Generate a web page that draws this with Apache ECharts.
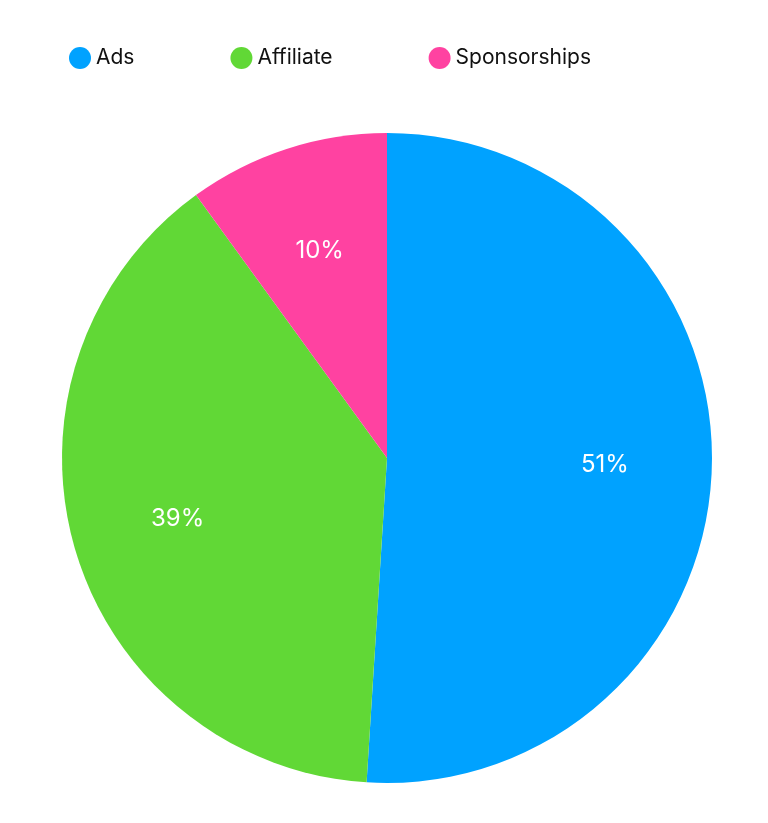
<!DOCTYPE html>
<html>
<head>
<meta charset="utf-8">
<script src="https://cdn.jsdelivr.net/npm/echarts@6/dist/echarts.min.js"></script>
<style>html,body{margin:0;background:#fff}#chart{width:768px;height:823px}</style>
</head>
<body>
<div id="chart"></div>
<script>
const categories = ['Ads', 'Affiliate', 'Sponsorships'];
const values = [51, 39, 10];
const colors = ['#00A2FF', '#61D836', '#FF42A1'];

const data = categories.map((name, i) => ({name, value: values[i]}));
const chart = echarts.init(document.getElementById('chart'));

chart.setOption({
  color: colors,
  legend: {
    top: 42,
    left: 64,
    itemGap: 96,
    icon: 'circle',
    itemWidth: 22,
    itemHeight: 22,
    textStyle: {fontFamily: 'Inter', fontSize: 21, color: '#111'},
    data: categories
  },
  series: [
    {
      type: 'pie',
      center: [387, 458],
      radius: [0, 325],
      startAngle: 90,
      clockwise: true,
      label: {show: false},
      labelLine: {show: false},
      emphasis: {disabled: true},
      data: data
    },
    {
      // transparent overlay just to push labels further out
      type: 'pie',
      silent: true,
      center: [387, 458],
      radius: [105, 325],
      startAngle: 90,
      clockwise: true,
      itemStyle: {color: 'rgba(0,0,0,0)'},
      label: {
        show: true,
        position: 'inside',
        formatter: '{c}%',
        color: '#fff',
        fontFamily: 'Inter',
        fontSize: 24
      },
      labelLine: {show: false},
      data: data
    }
  ]
});
</script>
</body>
</html>
